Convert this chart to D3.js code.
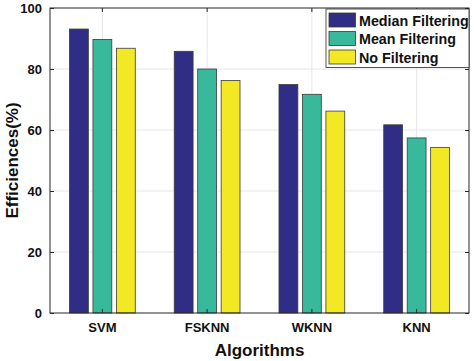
<!DOCTYPE html>
<html>
<head>
<meta charset="utf-8">
<script src="https://cdn.jsdelivr.net/npm/d3@7"></script>
<style>
  body { margin: 0; background: #fff; }
  text { font-family: "Liberation Sans", Arial, sans-serif; font-weight: bold; }
</style>
</head>
<body>
<script>
var algorithms = ["SVM", "FSKNN", "WKNN", "KNN"]
var seriesNames = ["Median Filtering", "Mean Filtering", "No Filtering"]
var medianFiltering = [93.1, 85.8, 74.9, 61.7]
var meanFiltering = [89.7, 80.0, 71.7, 57.4]
var noFiltering = [86.8, 76.2, 66.2, 54.3]
var yTicks = [0, 20, 40, 60, 80, 100]

var colors = ["#2f2d86", "#38b99b", "#f2e824"]
var seriesValues = [medianFiltering, meanFiltering, noFiltering]

var margin = {top: 8, right: 5, bottom: 48, left: 50}
var width = 474 - margin.left - margin.right,
    height = 361 - margin.top - margin.bottom

var svg = d3.select("body")
  .append("svg")
  .attr("width", 474)
  .attr("height", 361)
  .append("g")
  .attr("transform", "translate(" + margin.left + "," + margin.top + ")");

var x = d3.scaleBand()
  .domain(algorithms)
  .range([0, width])
  .padding(0)

var y = d3.scaleLinear()
  .domain([0, 100])
  .range([height, 0])

// grid lines
svg.selectAll("hgrid")
  .data(yTicks.slice(1, -1))
  .enter()
  .append("line")
    .attr("x1", 0).attr("x2", width)
    .attr("y1", function(d){ return y(d) }).attr("y2", function(d){ return y(d) })
    .attr("stroke", "#e6e6e6")
svg.selectAll("vgrid")
  .data(algorithms)
  .enter()
  .append("line")
    .attr("x1", function(d){ return x(d) + x.bandwidth()/2 })
    .attr("x2", function(d){ return x(d) + x.bandwidth()/2 })
    .attr("y1", 0).attr("y2", height)
    .attr("stroke", "#e6e6e6")

// bars
var barW = x.bandwidth() * 0.18
var step = x.bandwidth() * 0.224
var table = []
algorithms.forEach(function(a, i) {
  seriesValues.forEach(function(s, j) {
    table.push({alg: a, series: j, value: s[i]})
  })
})
svg.selectAll("mybars")
  .data(table)
  .enter()
  .append("rect")
    .attr("x", function(d){ return x(d.alg) + x.bandwidth()/2 + (d.series - 1)*step - barW/2 })
    .attr("y", function(d){ return y(d.value) })
    .attr("width", barW)
    .attr("height", function(d){ return height - y(d.value) })
    .attr("fill", function(d){ return colors[d.series] })
    .attr("stroke", "#3a3a3a")
    .attr("stroke-width", 0.8)

// axes box
svg.append("rect")
  .attr("x", 0).attr("y", 0)
  .attr("width", width).attr("height", height)
  .attr("fill", "none")
  .attr("stroke", "#262626")
  .attr("stroke-width", 1)

var yAxis = svg.append("g")
  .call(d3.axisLeft(y).tickValues(yTicks).tickSize(-4).tickPadding(8))
yAxis.select(".domain").remove()
yAxis.selectAll("line").attr("stroke", "#262626")
yAxis.selectAll("text").style("font-size", "13px").attr("fill", "#111")

var yAxisR = svg.append("g")
  .attr("transform", "translate(" + width + ",0)")
  .call(d3.axisRight(y).tickValues(yTicks).tickSize(-4).tickFormat(""))
yAxisR.select(".domain").remove()
yAxisR.selectAll("line").attr("stroke", "#262626")

var xAxis = svg.append("g")
  .attr("transform", "translate(0," + height + ")")
  .call(d3.axisBottom(x).tickSize(-4).tickPadding(10))
xAxis.select(".domain").remove()
xAxis.selectAll("line").attr("stroke", "#262626")
xAxis.selectAll("text").style("font-size", "13px").attr("fill", "#111")

var xAxisT = svg.append("g")
  .call(d3.axisTop(x).tickSize(-4).tickFormat(""))
xAxisT.select(".domain").remove()
xAxisT.selectAll("line").attr("stroke", "#262626")

// axis titles
svg.append("text")
  .attr("x", width/2)
  .attr("y", height + 43)
  .attr("text-anchor", "middle")
  .style("font-size", "17px")
  .attr("fill", "#111")
  .text("Algorithms")

svg.append("text")
  .attr("transform", "translate(" + (-margin.left + 18) + "," + (height/2) + ")rotate(-90)")
  .attr("text-anchor", "middle")
  .style("font-size", "17px")
  .attr("fill", "#111")
  .text("Efficiences(%)")

// legend
var legend = svg.append("g")
  .attr("transform", "translate(" + (width - 143) + ",1)")
legend.append("rect")
  .attr("width", 143).attr("height", 58.5)
  .attr("fill", "#fff")
  .attr("stroke", "#262626")
  .attr("stroke-width", 0.8)
var items = legend.selectAll("items")
  .data(seriesNames)
  .enter()
  .append("g")
    .attr("transform", function(d, i){ return "translate(3," + (4 + i*18.5) + ")" })
items.append("rect")
  .attr("width", 26.5).attr("height", 14)
  .attr("fill", function(d, i){ return colors[i] })
  .attr("stroke", "#3a3a3a")
  .attr("stroke-width", 0.8)
items.append("text")
  .attr("x", 30)
  .attr("y", 12.5)
  .style("font-size", "14.3px")
  .attr("fill", "#111")
  .text(function(d){ return d })
</script>
</body>
</html>
